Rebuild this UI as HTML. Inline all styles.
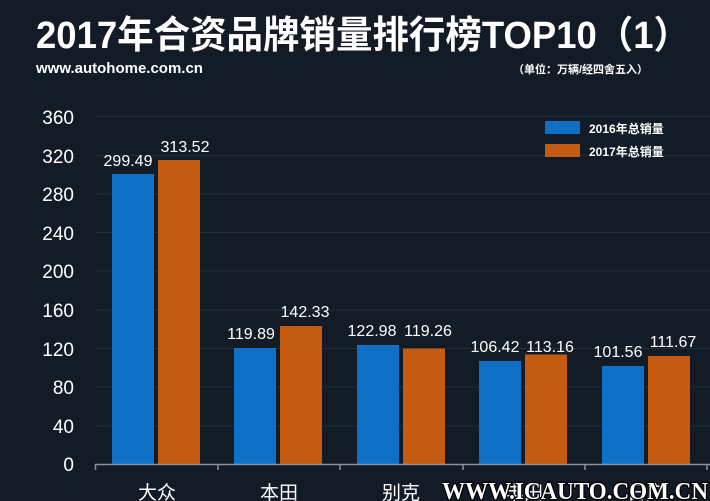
<!DOCTYPE html>
<html><head><meta charset="utf-8"><style>
html,body{margin:0;padding:0;background:#131b27;}
svg{display:block;}
text{font-family:"Liberation Sans","Noto Sans CJK SC",sans-serif;}
</style></head><body>
<svg width="710" height="501" viewBox="0 0 710 501" xmlns="http://www.w3.org/2000/svg">
<rect width="710" height="501" fill="#131b27"/>
<text x="36" y="48" fill="#fff" font-size="38" font-weight="bold" textLength="654" lengthAdjust="spacingAndGlyphs">2017年合资品牌销量排行榜TOP10（1）</text>
<text x="36" y="73" fill="#fff" font-size="15" font-weight="bold">www.autohome.com.cn</text>
<text x="513" y="73" fill="#fff" font-size="11" font-weight="bold">（单位：万辆/经四舍五入）</text>
<g stroke="#232d3c" stroke-width="1">
<line x1="95" x2="710" y1="116.5" y2="116.5"/><line x1="95" x2="710" y1="155.5" y2="155.5"/>
<line x1="95" x2="710" y1="194" y2="194"/><line x1="95" x2="710" y1="232.5" y2="232.5"/>
<line x1="95" x2="710" y1="271" y2="271"/><line x1="95" x2="710" y1="310" y2="310"/>
<line x1="95" x2="710" y1="348.5" y2="348.5"/><line x1="95" x2="710" y1="387" y2="387"/>
<line x1="95" x2="710" y1="426" y2="426"/>
</g>
<g fill="#fff" font-size="19" text-anchor="end">
<text x="74" y="124">360</text><text x="74" y="163">320</text><text x="74" y="201">280</text>
<text x="74" y="240">240</text><text x="74" y="278">200</text><text x="74" y="317">160</text>
<text x="74" y="356">120</text><text x="74" y="394">80</text><text x="74" y="433">40</text>
<text x="74" y="471">0</text>
</g>
<g>
<rect x="112" y="174" width="42" height="290.5" fill="#0f70c7"/>
<rect x="158" y="160" width="42" height="304.5" fill="#c55a11"/>
<rect x="234" y="348" width="42" height="116.5" fill="#0f70c7"/>
<rect x="280" y="326" width="42" height="138.5" fill="#c55a11"/>
<rect x="357" y="345" width="42" height="119.5" fill="#0f70c7"/>
<rect x="403" y="348.5" width="42" height="116" fill="#c55a11"/>
<rect x="479" y="361" width="42" height="103.5" fill="#0f70c7"/>
<rect x="525" y="354.5" width="42" height="110" fill="#c55a11"/>
<rect x="602" y="366" width="42" height="98.5" fill="#0f70c7"/>
<rect x="648" y="356" width="42" height="108.5" fill="#c55a11"/>
</g>
<g fill="#fff" font-size="16" text-anchor="middle">
<text x="128" y="166">299.49</text><text x="185" y="152">313.52</text>
<text x="251" y="339">119.89</text><text x="305" y="317">142.33</text>
<text x="372" y="336">122.98</text><text x="428" y="336">119.26</text>
<text x="495" y="352">106.42</text><text x="550" y="352">113.16</text>
<text x="618" y="357">101.56</text><text x="673" y="347">111.67</text>
</g>
<line x1="95" x2="710" y1="464.5" y2="464.5" stroke="#8a93a0" stroke-width="1.5"/>
<g stroke="#8a93a0" stroke-width="1.5">
<line x1="95.5" x2="95.5" y1="464" y2="470"/><line x1="218" x2="218" y1="464" y2="470"/>
<line x1="340" x2="340" y1="464" y2="470"/><line x1="463" x2="463" y1="464" y2="470"/>
<line x1="585" x2="585" y1="464" y2="470"/><line x1="707" x2="707" y1="464" y2="470"/>
</g>
<g fill="#fff" font-size="19" text-anchor="middle">
<text x="157" y="499">大众</text><text x="279" y="499">本田</text><text x="401" y="499">别克</text>
<text x="524" y="499">丰田</text><text x="646" y="499">日产</text>
</g>
<text x="575" y="499" fill="#fff" stroke="#000" stroke-width="2.5" paint-order="stroke" style="font-family:'Liberation Serif',serif;font-weight:bold;font-size:24px" text-anchor="middle" textLength="266" lengthAdjust="spacingAndGlyphs">WWW.ICAUTO.COM.CN</text>
<rect x="545" y="121" width="35" height="13" fill="#0f70c7"/>
<rect x="545" y="144" width="35" height="13" fill="#c55a11"/>
<text x="589" y="133" fill="#fff" font-size="12" font-weight="bold">2016年总销量</text>
<text x="589" y="156" fill="#fff" font-size="12" font-weight="bold">2017年总销量</text>
</svg>
</body></html>
